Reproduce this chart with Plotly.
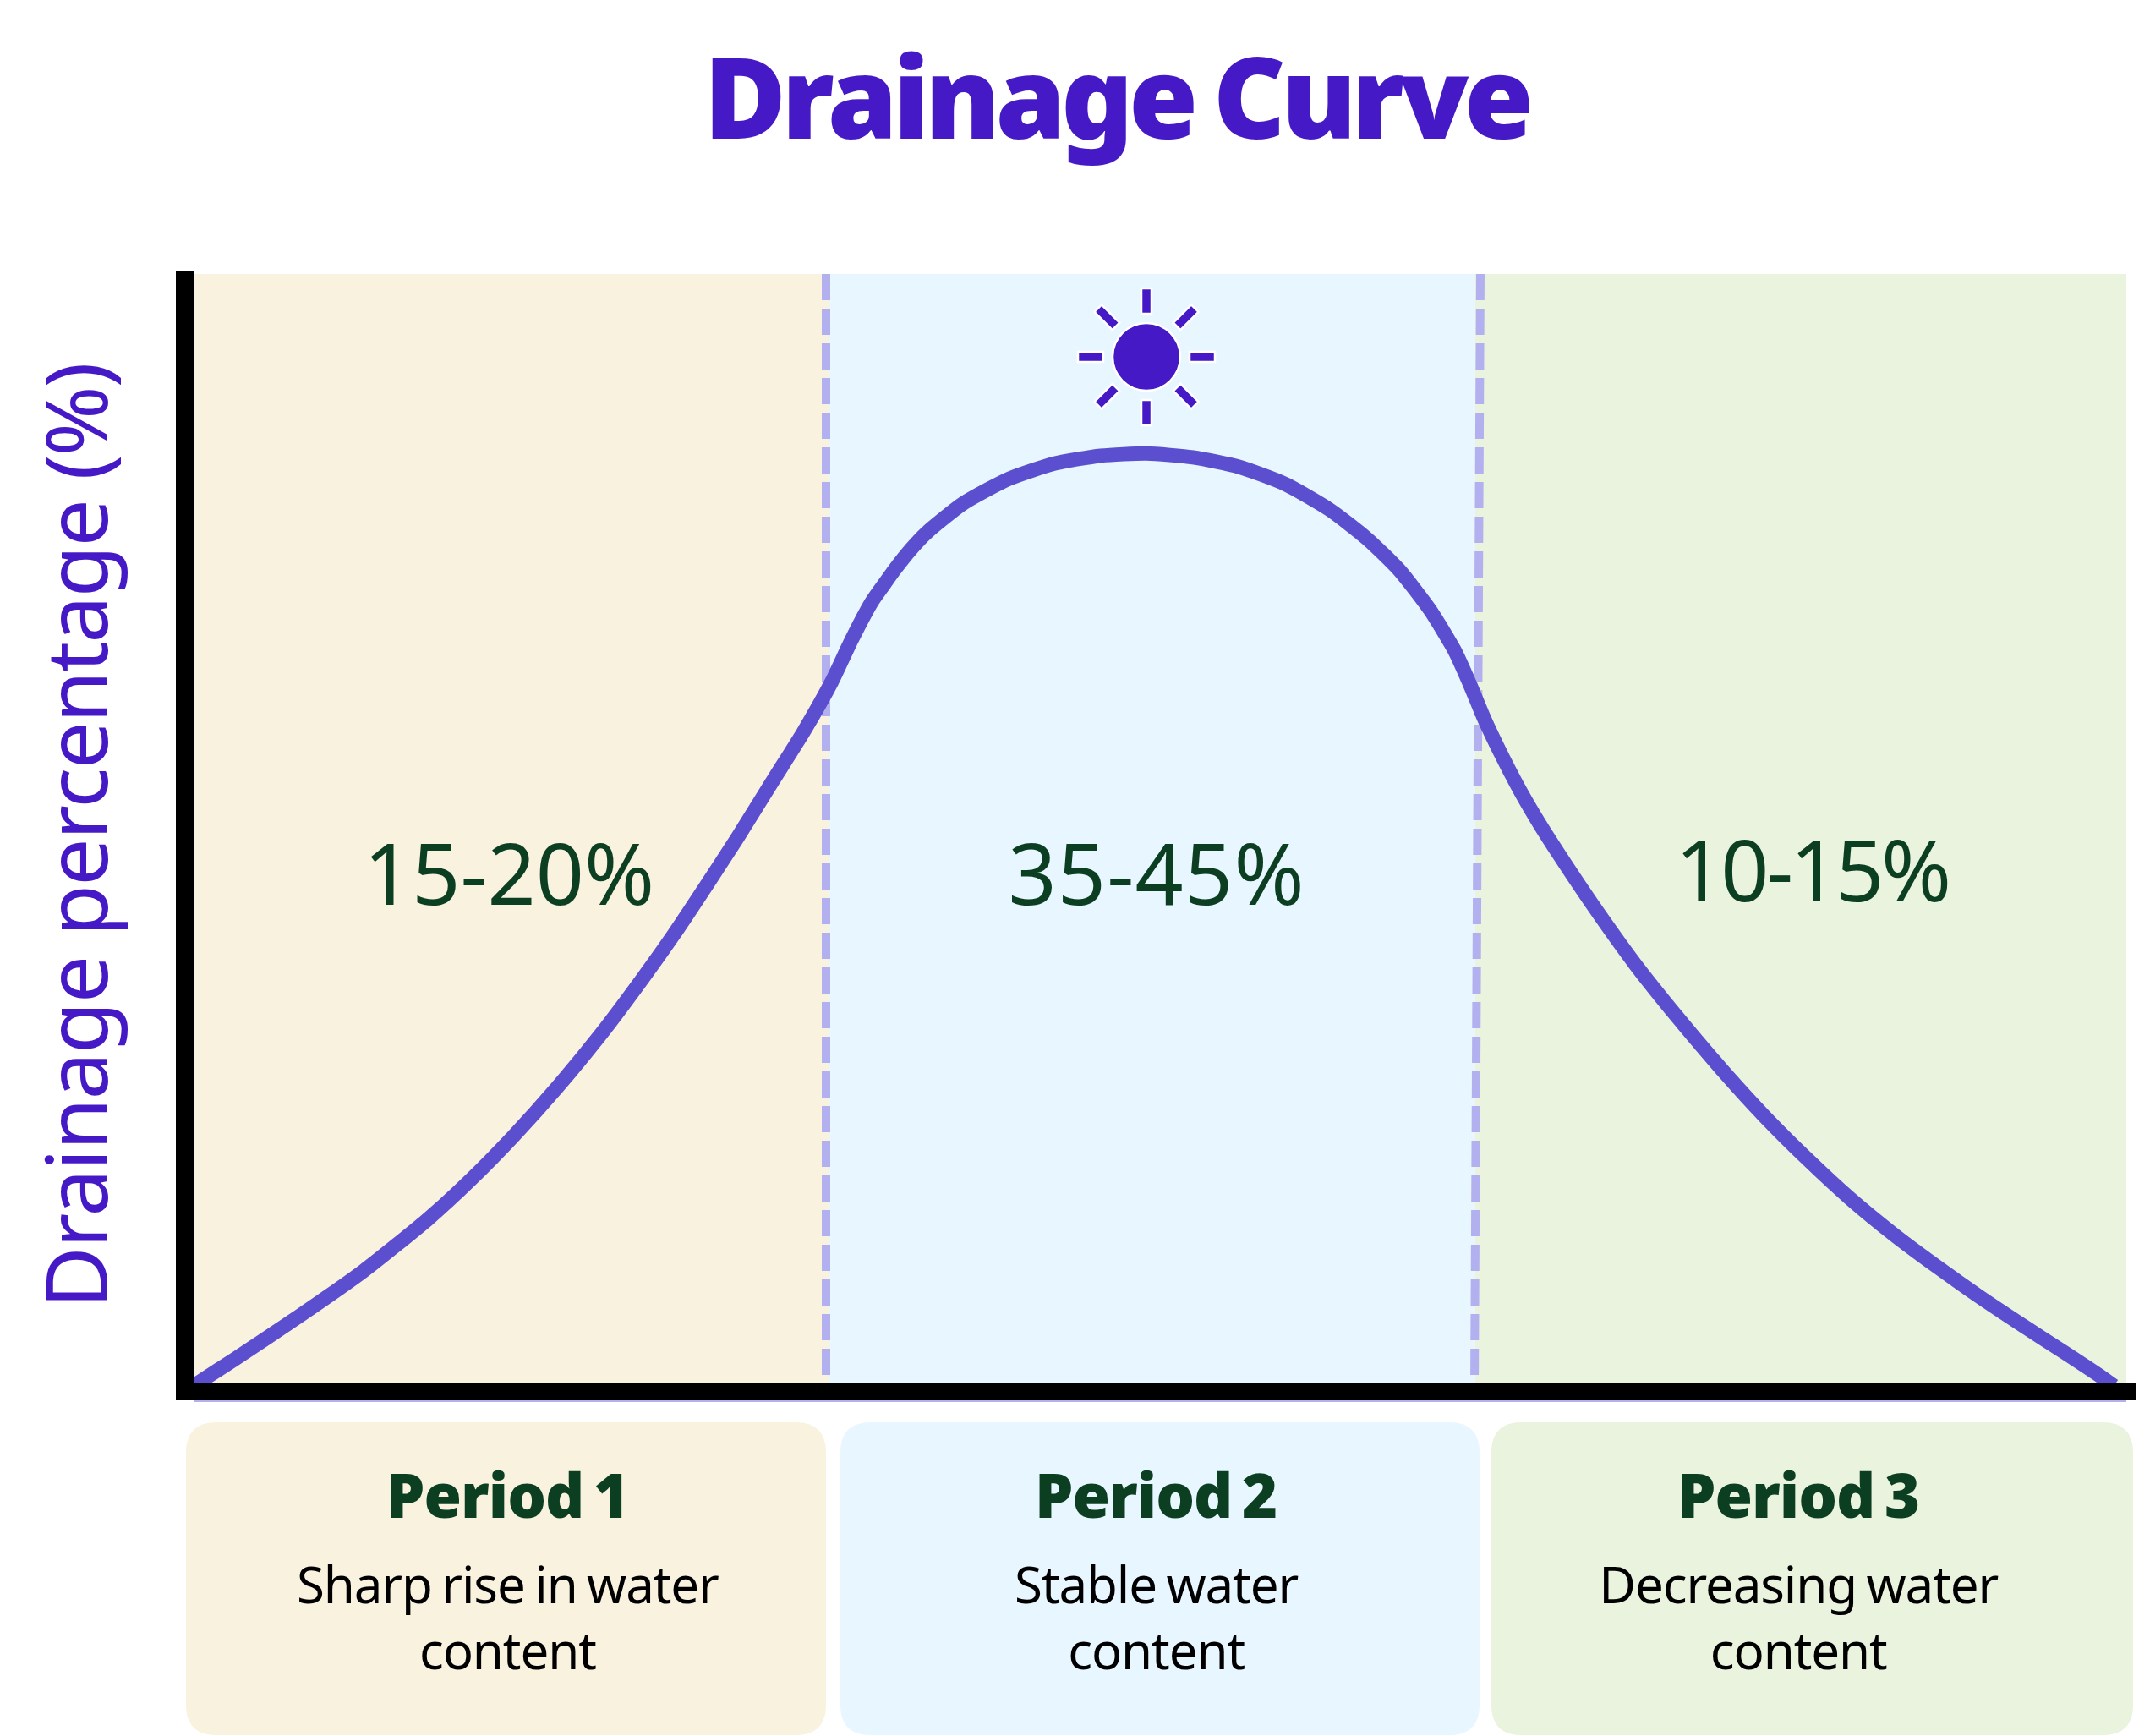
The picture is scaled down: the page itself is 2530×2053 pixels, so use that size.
import math
import plotly.graph_objects as go

W, H = 2530, 2053

# curve, x and y on a 0-100 chart scale
time_pct = [0.00, 0.39, 2.07, 5.40, 8.75, 12.05, 14.27, 16.49, 18.71, 20.93, 23.15, 24.72, 26.50, 27.98,
            29.85, 31.38, 32.85, 33.86, 34.90, 35.51, 36.07, 36.90, 37.73, 39.64, 41.99, 44.34, 46.69, 49.04, 51.44,
            53.79, 56.14, 58.49, 60.40, 62.05, 63.66, 64.92, 65.67, 66.45, 67.41, 68.37, 69.32, 70.32, 71.98,
            74.19, 76.41, 78.63, 80.85, 83.07, 85.29, 87.51, 89.73, 91.95, 94.17, 96.39, 98.17, 98.83]
drainage_pct = [-0.30, 0.15, 2.05, 5.93, 10.04, 14.68, 18.25, 22.21, 26.54, 31.25, 36.43, 40.30, 44.98, 48.97,
                54.22, 58.48, 63.04, 66.77, 70.19, 71.71, 73.08, 74.90, 76.43, 79.09, 81.29, 82.66, 83.35, 83.55, 83.20,
                82.36, 80.84, 78.48, 75.89, 73.08, 69.43, 65.78, 62.89, 59.62, 56.12, 52.93, 50.11, 47.38, 43.04,
                37.64, 32.78, 28.21, 23.95, 20.08, 16.50, 13.31, 10.42, 7.68, 5.10, 2.59, 0.53, -0.30]

# period bands
band_edges = [0, 32.72, 65.97, 99.48]
band_colors = ["#F9F2DF", "#E7F6FF", "#EAF3DE"]
band_top = 99.7

range_labels = ["15-20%", "35-45%", "10-15%"]
range_x = [16.24, 49.57, 83.29]
range_y = [45.95, 45.95, 46.25]

period_names = ["Period 1", "Period 2", "Period 3"]
period_notes = ["Sharp rise in water<br>content", "Stable water<br>content", "Decreasing water<br>content"]
card_left = [220, 994, 1764]
card_right = [977, 1750, 2523]

PURPLE = "#451AC6"
GREEN = "#0C3F22"
FONT = "Noto Sans"


def px(x):
    return x / W


def py(y):
    return 1 - y / H


def round_rect(x0, y0, x1, y1, r):
    return (f"M {px(x0 + r)} {py(y0)} L {px(x1 - r)} {py(y0)} Q {px(x1)} {py(y0)} {px(x1)} {py(y0 + r)} "
            f"L {px(x1)} {py(y1 - r)} Q {px(x1)} {py(y1)} {px(x1 - r)} {py(y1)} "
            f"L {px(x0 + r)} {py(y1)} Q {px(x0)} {py(y1)} {px(x0)} {py(y1 - r)} "
            f"L {px(x0)} {py(y0 + r)} Q {px(x0)} {py(y0)} {px(x0 + r)} {py(y0)} Z")


fig = go.Figure()

fig.add_trace(go.Scatter(
    x=time_pct, y=drainage_pct, mode="lines",
    line=dict(color="#5B4FCF", width=17, shape="spline", smoothing=0.6),
    hoverinfo="skip", showlegend=False))

shapes = []
# coloured bands behind the curve
for i in range(3):
    shapes.append(dict(type="rect", xref="x", yref="y", layer="below",
                       x0=band_edges[i], x1=band_edges[i + 1], y0=0, y1=band_top,
                       fillcolor=band_colors[i], line_width=0))

# dashed period dividers, the right one leans a little
dash = dict(color="#B3B0F0", width=10, dash="31px,10px")
shapes.append(dict(type="line", xref="x", yref="y", layer="below", x0=32.55, x1=32.55, y0=band_top, y1=0, line=dash))
shapes.append(dict(type="line", xref="x", yref="y", layer="below", x0=66.23, x1=65.93, y0=band_top, y1=0.4, line=dash))

# faint line under the x axis
shapes.append(dict(type="line", xref="paper", yref="paper", x0=px(230), x1=px(2515), y0=py(1657), y1=py(1657),
                   line=dict(color="#B3B0F0", width=2)))

# cards
for i in range(3):
    shapes.append(dict(type="path", xref="paper", yref="paper",
                       path=round_rect(card_left[i], 1682, card_right[i], 2052, 36),
                       fillcolor=band_colors[i], line_width=0))

# sun icon
sun_x, sun_y = 1356, 422
shapes.append(dict(type="circle", xref="paper", yref="paper",
                   x0=px(sun_x - 40), x1=px(sun_x + 40), y0=py(sun_y + 40), y1=py(sun_y - 40),
                   fillcolor=PURPLE, line=dict(color="white", width=2.5)))
for k in range(8):
    a = k * math.pi / 4
    ux, uy = math.cos(a), math.sin(a)
    nx, ny = -uy * 6, ux * 6
    r0, r1 = 51, 81
    corners = [(sun_x + ux * r0 + nx, sun_y + uy * r0 + ny), (sun_x + ux * r1 + nx, sun_y + uy * r1 + ny),
               (sun_x + ux * r1 - nx, sun_y + uy * r1 - ny), (sun_x + ux * r0 - nx, sun_y + uy * r0 - ny)]
    path = "M " + " L ".join(f"{px(cx)} {py(cy)}" for cx, cy in corners) + " Z"
    shapes.append(dict(type="path", xref="paper", yref="paper", path=path,
                       fillcolor=PURPLE, line=dict(color="white", width=2.5)))

annotations = []
annotations.append(dict(text="Drainage Curve", xref="paper", yref="paper", x=px(1320), y=py(113),
                        showarrow=False, xanchor="center", yanchor="middle",
                        font=dict(family=FONT, size=133, color=PURPLE, weight=900)))
annotations.append(dict(text="Drainage percentage (%)", xref="paper", yref="paper", x=px(88), y=py(989),
                        showarrow=False, xanchor="center", yanchor="middle", textangle=-90,
                        font=dict(family=FONT, size=100, color=PURPLE)))
for i in range(3):
    annotations.append(dict(text=range_labels[i], xref="x", yref="y", x=range_x[i], y=range_y[i],
                            showarrow=False, xanchor="center", yanchor="middle",
                            font=dict(family=FONT, size=100, color=GREEN)))
    centre = [600, 1367, 2127][i]
    annotations.append(dict(text=period_names[i], xref="paper", yref="paper", x=px(centre), y=py(1767),
                            showarrow=False, xanchor="center", yanchor="middle",
                            font=dict(family=FONT, size=72, color=GREEN, weight=900)))
    annotations.append(dict(text=period_notes[i], xref="paper", yref="paper", x=px(centre), y=py(1912),
                            showarrow=False, xanchor="center", yanchor="middle",
                            font=dict(family=FONT, size=60, color="black")))

axis = dict(showline=True, linecolor="black", linewidth=21, showticklabels=False, ticks="",
            showgrid=False, zeroline=False, fixedrange=True)

fig.update_layout(
    width=W, height=H,
    margin=dict(l=0, r=0, t=0, b=0, autoexpand=False),
    paper_bgcolor="white", plot_bgcolor="white",
    xaxis=dict(axis, range=[0, 100], domain=[px(229), px(2527)]),
    yaxis=dict(axis, range=[0, 100], domain=[py(1635), py(320)]),
    shapes=shapes, annotations=annotations, showlegend=False)

# the reference text is set tighter than the font's default spacing
tighten = """
document.body.style.margin = '0';
document.querySelectorAll('.annotation-text').forEach(function (t) {
    var s = t.textContent, ls = '-1.1px', ws = '-3px';
    if (s.indexOf('Drainage Curve') === 0) { ls = '-5.5px'; ws = '-6px'; }
    else if (s.indexOf('Drainage perc') === 0) { ls = '-1.8px'; ws = '0px'; }
    else if (s.indexOf('Period') === 0) { ls = '-1px'; ws = '-6px'; }
    else if (s === '10-15%') { ls = '-3.5px'; ws = '0px'; }
    else if (s === '35-45%') { ls = '1.2px'; ws = '0px'; }
    else if (s === '15-20%') { ls = '0px'; ws = '0px'; }
    t.style.letterSpacing = ls;
    t.style.wordSpacing = ws;
});
"""
fig.write_html("out.html", post_script=tighten, config=dict(displayModeBar=False))
